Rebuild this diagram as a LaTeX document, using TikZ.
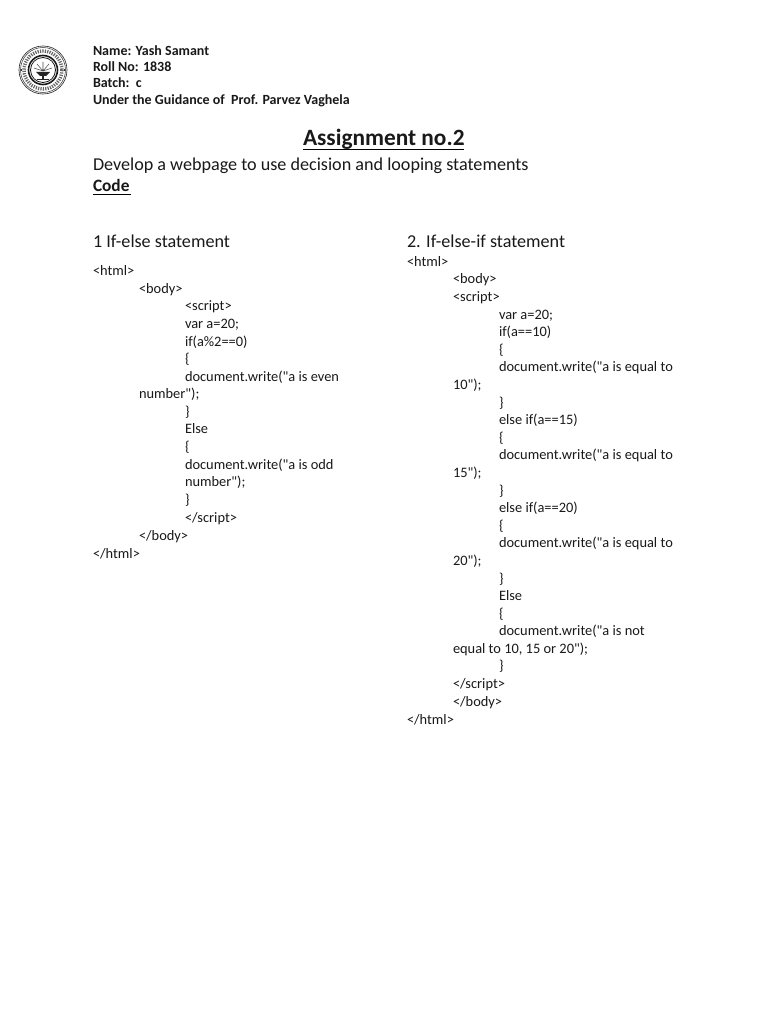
\documentclass[tikz,border=0pt]{standalone}
\usepackage{fontspec}
\setmainfont[Ligatures=TeXOff]{Carlito}
\tikzset{
  x=0.75pt,y=-0.75pt,
  txt/.style={anchor=base west,inner sep=0pt,outer sep=0pt,text=black!90},
  code/.style={txt,font=\fontsize{10.8}{12}\selectfont},
  head/.style={txt,font=\fontsize{10.5}{12}\selectfont\bfseries},
  sub/.style={txt,font=\fontsize{13.6}{15}\selectfont},
  seal/.style={draw=black!80,line width=0.5pt},
}
\begin{document}
\begin{tikzpicture}
\useasboundingbox (0,0) rectangle (768,1024);
\fill[white] (0,0) rectangle (768,1024);
% seal
\draw[seal] (43,70) circle (24);
\draw[seal,line width=0.4pt] (43,70) circle (22.5);
\draw[black!60,line width=2.6pt,dash pattern=on 0.9pt off 0.9pt] (43,70) circle (19);
\draw[black!90,line width=1.2pt] (43,70) circle (14.5);
\draw[black!90,line width=0.6pt] (43,70) circle (12.5);
\fill[black!85] (36,72) -- (50,72) -- (46,76) -- (40,76) -- cycle;
\fill[black!85] (42,76) rectangle (44,79);
\fill[black!85] (37,79) rectangle (49,80.5);
\draw[black!70,line width=0.4pt] (43,71) -- (43,62) (43,71) -- (37,64) (43,71) -- (49,64) (43,71) -- (34,68) (43,71) -- (52,68);
\fill[black] (21.5,70) circle (0.9) (64.5,70) circle (0.9);
% header
\node[head] (name) at (93,56) {Name: Yash Samant};
\node[head] (roll) at (93,72) {Roll No: 1838};
\node[head] (batch) at (93,88) {Batch:\ \ c};
\node[head] (guide) at (93,104) {Under the Guidance of\ \ Prof. Parvez Vaghela};
\node[txt,font=\fontsize{17.5}{20}\selectfont\bfseries] (title) at (303,145.5) {Assignment no.2};
\draw[black,line width=1pt] (303,149.5) -- (464,149.5);
\node[sub] (dev) at (93,170) {Develop a webpage to use decision and looping statements};
\node[txt,font=\fontsize{13}{15}\selectfont\bfseries] (codeh) at (93,191.5) {Code};
\draw[black,line width=0.9pt] (93,194.5) -- (131,194.5);
\node[sub] (h1) at (93,247) {1 If-else statement};
\node[sub] (h2) at (407,247) {2. If-else-if statement};
% left code
\node[code] (a1) at (93,275) {<html>};
\node[code] (a2) at (139,293) {<body>};
\node[code] (a3) at (185,310) {<script>};
\node[code] (a4) at (185,328) {var a=20;};
\node[code] (a5) at (185,346) {if(a\%2==0)};
\node[code] (a6) at (185,363) {\{};
\node[code] (a7) at (185,381) {document.write("a is even};
\node[code] (a8) at (139,398) {number");};
\node[code] (a9) at (185,416) {\}};
\node[code] (a10) at (185,433) {Else};
\node[code] (a11) at (185,451) {\{};
\node[code] (a12) at (185,469) {document.write("a is odd};
\node[code] (a13) at (185,486) {number");};
\node[code] (a14) at (185,504) {\}};
\node[code] (a15) at (185,522) {</script>};
\node[code] (a16) at (139,540) {</body>};
\node[code] (a17) at (93,558) {</html>};
% right code
\node[code] (b1) at (407,266) {<html>};
\node[code] (b2) at (453,283) {<body>};
\node[code] (b3) at (453,301) {<script>};
\node[code] (b4) at (499,319) {var a=20;};
\node[code] (b5) at (499,336) {if(a==10)};
\node[code] (b6) at (499,354) {\{};
\node[code] (b7) at (499,371) {document.write("a is equal to};
\node[code] (b8) at (453,389) {10");};
\node[code] (b9) at (499,407) {\}};
\node[code] (b10) at (499,424) {else if(a==15)};
\node[code] (b11) at (499,442) {\{};
\node[code] (b12) at (499,459) {document.write("a is equal to};
\node[code] (b13) at (453,477) {15");};
\node[code] (b14) at (499,495) {\}};
\node[code] (b15) at (499,512) {else if(a==20)};
\node[code] (b16) at (499,530) {\{};
\node[code] (b17) at (499,547) {document.write("a is equal to};
\node[code] (b18) at (453,565) {20");};
\node[code] (b19) at (499,583) {\}};
\node[code] (b20) at (499,600) {Else};
\node[code] (b21) at (499,618) {\{};
\node[code] (b22) at (499,635) {document.write("a is not};
\node[code] (b23) at (453,653) {equal to 10, 15 or 20");};
\node[code] (b24) at (499,670) {\}};
\node[code] (b25) at (453,688) {</script>};
\node[code] (b26) at (453,706) {</body>};
\node[code] (b27) at (407,724) {</html>};
\end{tikzpicture}
\end{document}
